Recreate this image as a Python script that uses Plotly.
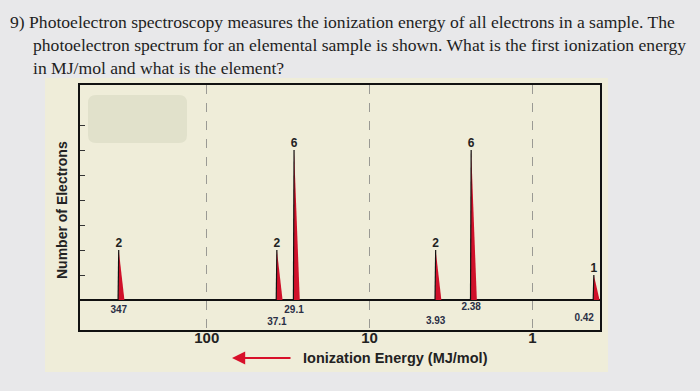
import numpy as np
import plotly.graph_objects as go

# ---- data ----
energies = [347, 37.1, 29.1, 3.93, 2.38, 0.42]          # MJ/mol
electrons = [2, 2, 6, 2, 6, 1]                          # relative number of electrons
energy_labels = ["347", "37.1", "29.1", "3.93", "2.38", "0.42"]
count_labels = ["2", "2", "6", "2", "6", "1"]
tick_values = [100, 10, 1]
tick_labels = ["100", "10", "1"]

title_lines = [
    "9) Photoelectron spectroscopy measures the ionization energy of all electrons in a sample. The",
    "photoelectron spectrum for an elemental sample is shown. What is the first ionization energy",
    "in MJ/mol and what is the element?",
]

# ---- geometry helpers (figure pixels -> paper) ----
W, H = 700, 391
ML, MR, MT, MB = 80, 100, 85, 61
PW, PH = W - ML - MR, H - MT - MB


def px(x):
    return (x - ML) / PW


def py(y):
    return (H - MB - y) / PH


RED = "#d0102a"
CREAM = "#efedd9"
PAGE = "#e8e8ea"
INK = "#2a2f45"

fig = go.Figure()

# peaks: narrow triangles on a log axis, black leading edge
for e, n in zip(energies, electrons):
    left = e * 10 ** 0.004
    right = e * 10 ** -0.035
    fig.add_trace(go.Scatter(
        x=[left, e, right, left], y=[0, n, 0, 0],
        mode="lines", fill="toself", fillcolor=RED,
        line=dict(width=0), hoverinfo="skip", showlegend=False))
    fig.add_trace(go.Scatter(
        x=[left, e], y=[0, n], mode="lines",
        line=dict(color="#111", width=1.2), hoverinfo="skip", showlegend=False))

# counts above the peaks
fig.add_trace(go.Scatter(
    x=energies, y=electrons, mode="text", text=count_labels,
    textposition="top center", cliponaxis=False,
    textfont=dict(family="Liberation Sans", size=12, color="#222", weight="bold"),
    hoverinfo="skip", showlegend=False))

# energy values in the strip below the baseline (alternating rows)
rows = [-0.4, -0.9, -0.4, -0.85, -0.3, -0.75]
fig.add_trace(go.Scatter(
    x=energies, y=rows, mode="text", text=energy_labels,
    textposition=["middle center"] * 5 + ["middle left"], cliponaxis=False,
    textfont=dict(family="Liberation Sans", size=10, color=INK, weight="bold"),
    hoverinfo="skip", showlegend=False))


def rounded(x0, y0, x1, y1, rx, ry):
    return (f"M{x0+rx},{y0} L{x1-rx},{y0} Q{x1},{y0} {x1},{y0+ry} "
            f"L{x1},{y1-ry} Q{x1},{y1} {x1-rx},{y1} L{x0+rx},{y1} "
            f"Q{x0},{y1} {x0},{y1-ry} L{x0},{y0+ry} Q{x0},{y0} {x0+rx},{y0} Z")


shapes = [
    # cream picture panel
    dict(type="rect", xref="paper", yref="paper",
         x0=px(45), x1=px(608), y0=py(372), y1=py(78),
         fillcolor=CREAM, line=dict(width=0), layer="below"),
    # rounded grey patch
    dict(type="path", xref="paper", yref="paper",
         path=rounded(px(88), py(143), px(187), py(95), 8 / PW, 8 / PH),
         fillcolor="#e1e1cb", line=dict(width=0), layer="below"),
]

annotations = []
for i, line in enumerate(title_lines):
    annotations.append(dict(
        text=line, xref="paper", yref="paper",
        x=px(8 if i == 0 else 31), y=py(22 + 23 * i),
        xanchor="left", yanchor="middle", showarrow=False,
        font=dict(family="Liberation Serif", size=17.6, color="#1e1e1e")))

# y title
annotations.append(dict(
    text="Number of Electrons", xref="paper", yref="paper",
    x=px(62), y=py(210), textangle=-90, showarrow=False,
    xanchor="center", yanchor="middle",
    font=dict(family="Liberation Sans", size=14, color="#222", weight="bold")))
# x title
annotations.append(dict(
    text="Ionization Energy (MJ/mol)", xref="paper", yref="paper",
    x=px(301), y=py(358), xanchor="left", yanchor="middle", showarrow=False,
    font=dict(family="Liberation Sans", size=14.5, color="#222", weight="bold")))
# red arrow pointing to higher energy
annotations.append(dict(
    text="", xref="paper", yref="paper", x=px(232), y=py(358),
    ax=60, ay=0, showarrow=True, arrowhead=2, arrowsize=1.2,
    arrowwidth=2.2, arrowcolor="#d8102a"))

fig.update_layout(
    width=W, height=H,
    margin=dict(l=ML, r=MR, t=MT, b=MB),
    paper_bgcolor=PAGE, plot_bgcolor="rgba(0,0,0,0)",
    shapes=shapes, annotations=annotations,
    xaxis=dict(
        type="log", range=[np.log10(600), np.log10(0.385)],
        tickvals=tick_values, ticktext=tick_labels, ticks="", ticklen=0,
        ticklabelstandoff=-7,
        tickfont=dict(family="Liberation Sans", size=15, color="#222", weight="bold"),
        showgrid=True, gridcolor="#9a9a94", griddash="dash", gridwidth=1,
        showline=True, linecolor="#111", linewidth=1.5, mirror=True,
        zeroline=False),
    yaxis=dict(
        range=[-1.2, 8.6], tickvals=[1, 2, 3, 4, 5, 6, 7], showticklabels=False,
        ticks="inside", ticklen=5, tickcolor="#333",
        showgrid=False, zeroline=True, zerolinecolor="#111", zerolinewidth=1.5,
        showline=True, linecolor="#111", linewidth=1.5, mirror=True),
)

fig.write_html(
    "out.html",
    config={"displayModeBar": False},
    post_script="document.body.style.margin='0';document.body.style.overflow='hidden';",
)
